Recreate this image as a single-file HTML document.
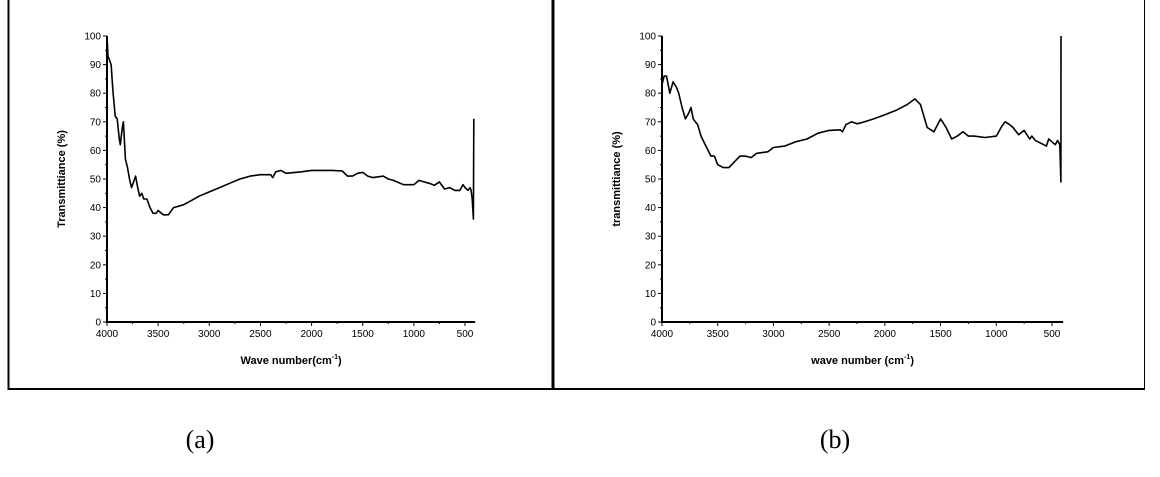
<!DOCTYPE html>
<html><head><meta charset="utf-8"><style>
body{margin:0;background:#fff;width:1160px;height:477px;overflow:hidden}
svg{display:block}
text{font-family:"Liberation Sans",sans-serif}
</style></head><body>
<svg id="s" width="1160" height="477">
<line x1="8.5" y1="0" x2="8.5" y2="390" stroke="#000" stroke-width="2"/>
<line x1="8" y1="389" x2="1145" y2="389" stroke="#000" stroke-width="2"/>
<line x1="553" y1="0" x2="553" y2="390" stroke="#000" stroke-width="3"/>
<line x1="1144.5" y1="0" x2="1144.5" y2="389" stroke="#000" stroke-width="1"/>
<text x="200" y="448" font-size="26" text-anchor="middle" style="font-family:'Liberation Serif',serif">(a)</text>
<text x="835" y="448" font-size="26" text-anchor="middle" style="font-family:'Liberation Serif',serif">(b)</text>
</svg>
<script>
const xTicks=[4000,3500,3000,2500,2000,1500,1000,500];
const yTicks=[0,10,20,30,40,50,60,70,80,90,100];
const waveA=[4000,3990,3960,3940,3920,3900,3880,3870,3850,3840,3820,3800,3780,3760,3740,3720,3700,3680,3660,3640,3610,3580,3550,3520,3500,3450,3400,3350,3300,3250,3200,3100,3000,2900,2800,2700,2600,2500,2400,2380,2350,2300,2250,2100,2000,1800,1700,1650,1600,1550,1500,1450,1400,1300,1250,1200,1100,1000,950,900,850,800,750,700,650,600,550,520,500,470,450,440,430,418,414];
const transA=[100,93,90,80,72,71,64,62,68,70,57,54,50,47,49,51,47,44,45,43,43,40,38,38,39,37.5,37.5,40,40.5,41,42,44,45.5,47,48.5,50,51,51.5,51.5,50.5,52.5,53,52,52.5,53,53,52.8,51,51,52,52.3,51,50.5,51,50,49.5,48,48,49.5,49,48.5,47.8,49,46.5,47,46,46,48,47,46,47,46,43,36,71];
const waveB=[4000,3980,3960,3930,3900,3870,3850,3820,3790,3760,3740,3720,3700,3680,3650,3600,3560,3530,3500,3450,3400,3350,3300,3250,3200,3150,3050,3000,2900,2800,2700,2600,2500,2400,2380,2350,2300,2250,2200,2100,2000,1900,1800,1730,1680,1620,1560,1500,1450,1400,1350,1300,1250,1200,1100,1000,950,920,880,850,800,750,700,680,650,550,530,500,470,450,430,420,419];
const transB=[83,86,86,80,84,82,80,75,71,73,75,71,70,69,65,61,58,58,55,54,54,56,58,58,57.5,59,59.5,61,61.5,63,64,66,67,67.2,66.5,69,70,69.3,69.8,71,72.5,74,76,78,76,68,66.5,71,68,64,65,66.5,65,65,64.5,65,68.5,70,69,68,65.5,67,64,65,63.5,61.5,64,63,62,63.5,62,49,100];
const NS='http://www.w3.org/2000/svg';
const svg=document.getElementById('s');
function el(t,a,p){const e=document.createElementNS(NS,t);for(const k in a)e.setAttribute(k,a[k]);(p||svg).appendChild(e);return e;}
function panel(id,x0,x4000,x500,xLabel,yLabel,waves,vals){
  const g=el('g',{});
  
  
  const sx=v=>x4000+(4000-v)*(x500-x4000)/3500;
  const sy=v=>322-v*2.86;
  const xEnd=sx(400);
  const ax=el('path',{d:`M${x4000},${sy(100)}V${sy(0)}H${xEnd}`,stroke:'#000','stroke-width':2,fill:'none'},g);
  
  
  for(const t of yTicks){
    const tk=el('line',{x1:x4000-4,x2:x4000,y1:sy(t),y2:sy(t),stroke:'#000'},g);
    
    
    if(t<100){el('line',{x1:x4000-2,x2:x4000,y1:sy(t+5),y2:sy(t+5),stroke:'#000'},g);}
    const tx=el('text',{x:x4000-6,y:sy(t)+3.5,'font-size':10,'text-anchor':'end'},g);
    tx.textContent=t;
    
    
  }
  for(const t of xTicks){
    const tk=el('line',{x1:sx(t),x2:sx(t),y1:sy(0),y2:sy(0)+4,stroke:'#000'},g);
    
    
    if(t>500){el('line',{x1:sx(t-250),x2:sx(t-250),y1:sy(0),y2:sy(0)+2,stroke:'#000'},g);}
    const tx=el('text',{x:sx(t),y:sy(0)+15,'font-size':10,'text-anchor':'middle'},g);
    tx.textContent=t;
    
    
  }
  const xl=el('text',{x:(x4000+xEnd)/2,y:364,'font-size':11,'font-weight':'bold','text-anchor':'middle'},g);
  xl.innerHTML=xLabel+'<tspan dy="-5" font-size="7">-1</tspan><tspan dy="5">)</tspan>';
  
  
  const yl=el('text',{x:0,y:0,'font-size':11,'font-weight':'bold','text-anchor':'middle',transform:`translate(${x4000-42},${sy(50)}) rotate(-90)`},g);
  yl.textContent=yLabel;
  
  
  const d=waves.map((w,i)=>(i?'L':'M')+sx(w).toFixed(1)+','+sy(vals[i]).toFixed(1)).join('');
  const ln=el('path',{d:d,stroke:'#000','stroke-width':1.6,fill:'none','stroke-linejoin':'round'},g);
  
  
}
panel('chart-a',0,107,465,'Wave number(cm','Transmittiance (%)',waveA,transA);
panel('chart-b',0,662,1052,'wave number (cm','transmittiance (%)',waveB,transB);
</script>
</body></html>
